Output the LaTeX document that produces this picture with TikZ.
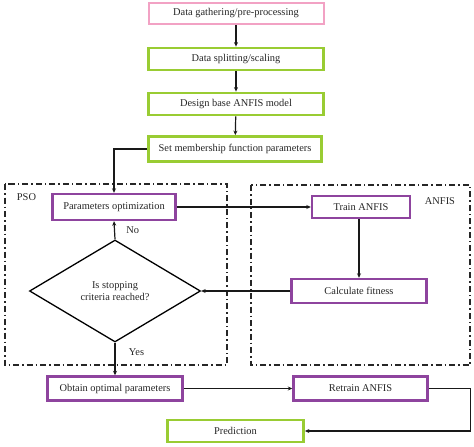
\documentclass[tikz,border=0pt]{standalone}
\usepackage{fontspec}
\setmainfont{Liberation Serif}
\usetikzlibrary{positioning, arrows.meta, shapes.geometric, calc}
\definecolor{flowgreen}{HTML}{99CC33}
\definecolor{flowpink}{HTML}{F2A2C4}
\definecolor{flowpurple}{HTML}{8E449E}

\begin{document}
\begin{tikzpicture}[x=1pt, y=-1pt, font=\fontsize{10.4}{12}\selectfont,
    gbox/.style={draw=flowgreen, line width=2.8pt, fill=white, minimum height=22pt, inner sep=1pt, text=black!85},
    pbox/.style={draw=flowpurple, line width=2.4pt, fill=white, minimum height=22pt, inner sep=1pt, text=black!85},
    kbox/.style={draw=flowpink, line width=2pt, fill=white, minimum height=21pt, inner sep=1pt, text=black!85},
    decide/.style={draw=black, line width=1.3pt, diamond, aspect=1.7, minimum width=171pt, minimum height=102pt, inner sep=0pt, align=center, text=black!85},
    region/.style={draw=black!85, line width=1.4pt, dash pattern=on 6pt off 3pt on 1.5pt off 3pt},
    flow/.style={-{Stealth[length=4.5pt, width=4pt]}, line width=1.2pt, black!90}]

  \useasboundingbox (0,0) rectangle (474,447);

  % dashed groups
  \draw[region] (5,184) rectangle (227,365);
  \draw[region] (251,185) rectangle (470,365);
  \node[text=black!85] (psotag) at (26.5,197) {PSO};
  \node[text=black!85] (anfistag) at (440,201) {ANFIS};

  \node[kbox, minimum width=175pt] (gather) at (236,13.5) {Data gathering/pre-processing};
  \node[gbox, minimum width=175pt] (split) at (236,59) {Data splitting/scaling};
  \node[gbox, minimum width=175pt] (design) at (236,104) {Design base ANFIS model};
  \node[gbox, minimum width=173pt, minimum height=25pt] (member) at (235,149) {Set membership function parameters};

  \node[pbox, minimum width=123pt, minimum height=26pt] (paramopt) at (114,207) {Parameters optimization};
  \node[pbox, minimum width=98pt] (train) at (361,207) {Train ANFIS};
  \node[pbox, minimum width=135pt, minimum height=24pt] (fitness) at (359,291) {Calculate fitness};
  \node[decide] (stop) at (115,291) {Is stopping\\criteria reached?};

  \node[pbox, minimum width=135pt, minimum height=24pt] (obtain) at (115,388.5) {Obtain optimal parameters};
  \node[pbox, minimum width=134pt, minimum height=24pt] (retrain) at (360.5,388.5) {Retrain ANFIS};
  \node[gbox, minimum width=136pt] (predict) at (235.5,431) {Prediction};

  \draw[flow] (gather) -- (split);
  \draw[flow] (split) -- (design);
  \draw[flow] (design) -- (member);
  \draw[flow] (member.west) -| (paramopt.north);
  \draw[flow] (paramopt.east) -- (train.west);
  \draw[flow] (train.south -| fitness.north) -- (fitness.north);
  \draw[flow] (fitness.west) -- (stop.east);
  \draw[flow] (stop.north) -- node[right=8pt, text=black!85] {No} (paramopt.south);
  \draw[flow] (stop.south) -- node[right=10pt, pos=0.3, text=black!85] {Yes} (obtain.north);
  \draw[flow] (obtain.east) -- (retrain.west);
  \draw[flow] (retrain.east) -- ++(42,0) |- (predict.east);
\end{tikzpicture}
\end{document}
